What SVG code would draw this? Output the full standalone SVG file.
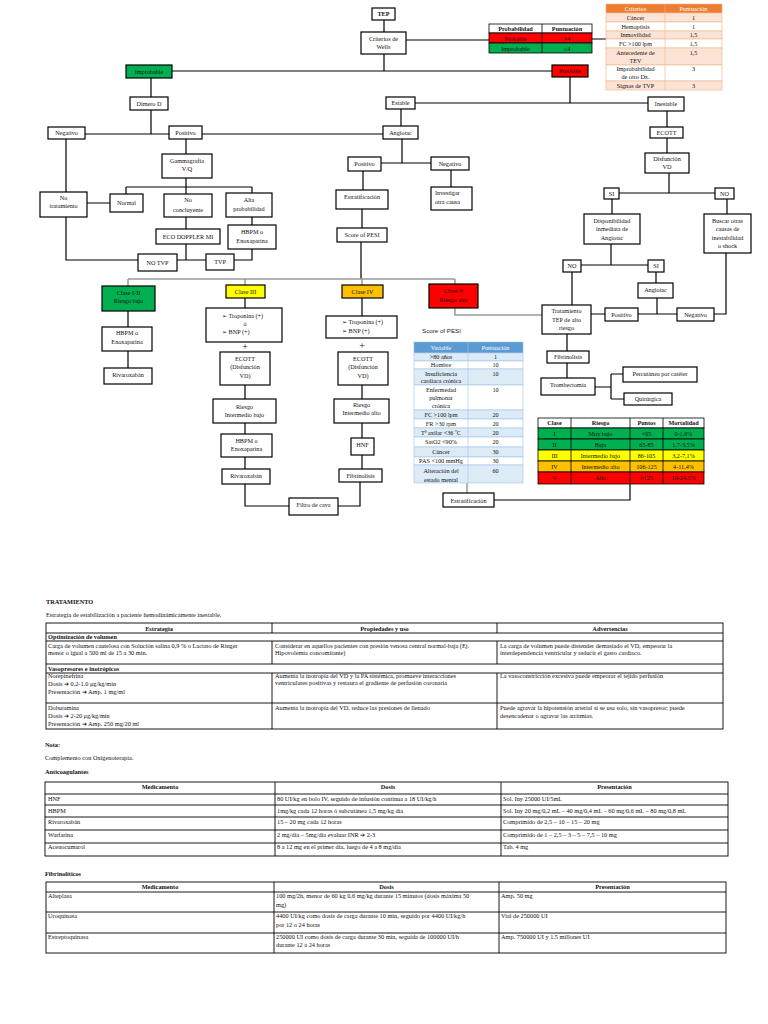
<svg xmlns="http://www.w3.org/2000/svg" width="768" height="1024" viewBox="0 0 768 1024">
<style>
.b{fill:#fff;stroke:#000;stroke-width:1.2}
.t{font-family:"Liberation Serif","DejaVu Serif",serif;font-size:6.2px;fill:#111;text-anchor:middle}
.l{text-anchor:start}
.bd{font-weight:bold}
.w{fill:#fff}
.e{fill:none;stroke:#000;stroke-width:1.2}
.eg{fill:none;stroke:#9a9a9a;stroke-width:1.5}
.tb{fill:none;stroke:#000;stroke-width:0.9}
.s{font-family:"Liberation Serif","DejaVu Serif",serif;font-size:6.3px;fill:#111}
.sb{font-weight:bold}
.sc{text-anchor:middle}
.co{stroke:#f4b183;stroke-width:0.6}
.cb{stroke:#9dc3e6;stroke-width:0.6}
.rk{stroke:#000;stroke-width:0.8}
</style>
<rect width="768" height="1024" fill="#fff"/>

<g id="connectors">
<path class="e" d="M384 20V32 M406 40H489 M592 39H606 M384 54V71 M172 71H552 M151 78V97 M151 110V134 M85 134H169 M202 134H383 M570 77V103 M415 103H648 M401 109V126 M66 139V192 M186 139V154 M186 178V194 M126 187H252 M126 187V194 M252 187V193 M87 203H110 M186 217V229 M252 217V225 M186 244V260 M177 260H206 M66 217V260H138 M252 249V260H234 M402 139V163 M381 163H431 M363 171V190 M451 170V187 M362 209V228 M361 242V279 M667 111V127 M667 138V153 M669 173V193 M619 193H715 M612 199V214 M727 199V214 M611 244V265 M581 265H648 M726 253V314H714 M572 272V305 M656 272V283 M657 298V314 M638 314H677 M605 314H591 M567 334V351 M567 363V378 M595 387H611 M611 374V399 M611 374H623 M611 399H624 M128 311V327 M128 351V368 M245 298V308 M245 385V399 M245 423V434 M245 457V469 M245 484V506H289 M362 298V316 M362 385V399 M362 423V438 M362 455V469 M360 482V506H338 M494 500H630V484"/>
<path class="eg" d="M128 279H455 M128 279V286 M245 279V285 M362 279V285 M455 279V284 M455 308V315H542 M467 483V493"/>
</g>

<g id="n-tep"><rect class="b" x="372" y="8" width="23" height="12"/><text class="t bd" x="383.5" y="16.2">TEP</text></g>
<g id="n-wells"><rect class="b" x="361" y="32" width="45" height="22"/><text class="t" x="383.5" y="40.5">Criterios de</text><text class="t" x="383.5" y="49">Wells</text></g>

<g id="t-probabilidad">
<rect x="489" y="24" width="103" height="9" fill="#fff" class="rk"/>
<rect x="489" y="33" width="103" height="10" fill="#ff0000" class="rk"/>
<rect x="489" y="43" width="103" height="10" fill="#00b050" class="rk"/>
<path class="rk" d="M542 24V53"/>
<text class="t bd" x="515.5" y="31">Probabilidad</text><text class="t bd" x="567" y="31">Puntuación</text>
<text class="t" x="515.5" y="40.5" fill="#7a0000">Probable</text><text class="t" x="567" y="40.5" fill="#7a0000">&gt;4</text>
<text class="t" x="515.5" y="50.5" fill="#0b4a22">Improbable</text><text class="t" x="567" y="50.5" fill="#0b4a22">≤4</text>
</g>

<g id="t-criterios">
<rect x="606" y="4" width="116" height="9" fill="#ed7d31" class="co"/>
<rect x="606" y="13" width="116" height="9" fill="#fbe4d5" class="co"/>
<rect x="606" y="22" width="116" height="9" fill="#fff" class="co"/>
<rect x="606" y="31" width="116" height="8" fill="#fbe4d5" class="co"/>
<rect x="606" y="39" width="116" height="9" fill="#fff" class="co"/>
<rect x="606" y="48" width="116" height="17" fill="#fbe4d5" class="co"/>
<rect x="606" y="65" width="116" height="16" fill="#fff" class="co"/>
<rect x="606" y="81" width="116" height="9" fill="#fbe4d5" class="co"/>
<path class="co" d="M665 4V90"/>
<text class="t w" x="635.5" y="10.8">Criterios</text><text class="t w" x="693.5" y="10.8">Puntuación</text>
<text class="t" x="635.5" y="19.7">Cáncer</text><text class="t" x="693.5" y="19.7">1</text>
<text class="t" x="635.5" y="28.7">Hemoptisis</text><text class="t" x="693.5" y="28.7">1</text>
<text class="t" x="635.5" y="37.2">Inmovilidad</text><text class="t" x="693.5" y="37.2">1,5</text>
<text class="t" x="635.5" y="45.7">FC &gt;100 lpm</text><text class="t" x="693.5" y="45.7">1,5</text>
<text class="t" x="635.5" y="54.5">Antecedente de</text><text class="t" x="635.5" y="62.5">TEV</text><text class="t" x="693.5" y="54.5">1,5</text>
<text class="t" x="635.5" y="71">Improbabilidad</text><text class="t" x="635.5" y="79">de otro Dx.</text><text class="t" x="693.5" y="71">3</text>
<text class="t" x="635.5" y="87.7">Signos de TVP</text><text class="t" x="693.5" y="87.7">3</text>
</g>

<g id="n-improbable"><rect class="b" x="126" y="65" width="46" height="13" fill="#00b050" style="fill:#00b050"/><text class="t" x="149" y="73.5" fill="#0b4a22">Improbable</text></g>
<g id="n-probable"><rect class="b" x="552" y="65" width="36" height="12" style="fill:#ff0000"/><text class="t" x="570" y="73.2" fill="#7a0000">Probable</text></g>
<g id="n-dimero"><rect class="b" x="130" y="97" width="38" height="13"/><text class="t" x="149" y="105.5">Dímero D</text></g>
<g id="n-negativo1"><rect class="b" x="48" y="127" width="37" height="12"/><text class="t" x="66.5" y="135.2">Negativo</text></g>
<g id="n-positivo1"><rect class="b" x="169" y="126" width="33" height="13"/><text class="t" x="185.5" y="134.5">Positivo</text></g>
<g id="n-gamma"><rect class="b" x="162" y="154" width="50" height="24"/><text class="t" x="187" y="162.5">Gammagrafía</text><text class="t" x="187" y="171">V/Q</text></g>
<g id="n-notrat"><rect class="b" x="40" y="192" width="47" height="25"/><text class="t" x="63.5" y="199.5">No</text><text class="t" x="63.5" y="208">tratamiento</text></g>
<g id="n-normal"><rect class="b" x="110" y="194" width="33" height="18"/><text class="t" x="126.5" y="205">Normal</text></g>
<g id="n-noconc"><rect class="b" x="164" y="194" width="48" height="23"/><text class="t" x="188" y="202">No</text><text class="t" x="188" y="211.5">concluyente</text></g>
<g id="n-alta"><rect class="b" x="226" y="193" width="46" height="24"/><text class="t" x="249" y="201.5">Alta</text><text class="t" x="249" y="210.5">probabilidad</text></g>
<g id="n-eco"><rect class="b" x="156" y="229" width="64" height="15"/><text class="t" x="188" y="238.5">ECO DOPPLER MI</text></g>
<g id="n-hbpm1"><rect class="b" x="228" y="225" width="48" height="24"/><text class="t" x="252" y="233.5">HBPM o</text><text class="t" x="252" y="242.5">Enoxaparina</text></g>
<g id="n-notvp"><rect class="b" x="138" y="254" width="39" height="17"/><text class="t" x="157.5" y="264.5">NO TVP</text></g>
<g id="n-tvp"><rect class="b" x="206" y="254" width="28" height="16"/><text class="t" x="220" y="264">TVP</text></g>

<g id="n-estable"><rect class="b" x="386" y="97" width="29" height="12"/><text class="t" x="400.5" y="105.2">Estable</text></g>
<g id="n-angiotac1"><rect class="b" x="383" y="126" width="35" height="13"/><text class="t" x="400.5" y="134.5">Angiotac</text></g>
<g id="n-positivo2"><rect class="b" x="348" y="157" width="33" height="14"/><text class="t" x="364.5" y="166">Positivo</text></g>
<g id="n-negativo2"><rect class="b" x="431" y="157" width="38" height="13"/><text class="t" x="450" y="165.5">Negativo</text></g>
<g id="n-estrat1"><rect class="b" x="336" y="190" width="52" height="19"/><text class="t" x="362" y="199">Estratificación</text></g>
<g id="n-investigar"><rect class="b" x="431" y="187" width="41" height="23"/><text class="t l" x="435" y="195">Investigar</text><text class="t l" x="435" y="204">otra causa</text></g>
<g id="n-pesi"><rect class="b" x="337" y="228" width="50" height="14"/><text class="t" x="362" y="236.5">Score of PESI</text></g>

<g id="n-inestable"><rect class="b" x="648" y="97" width="36" height="14"/><text class="t" x="666" y="106">Inestable</text></g>
<g id="n-ecott1"><rect class="b" x="650" y="127" width="33" height="11"/><text class="t" x="666.5" y="134.5">ECOTT</text></g>
<g id="n-disfuncion"><rect class="b" x="645" y="153" width="44" height="20"/><text class="t" x="667" y="160.5">Disfunción</text><text class="t" x="667" y="168.5">VD</text></g>
<g id="n-si1"><rect class="b" x="604" y="188" width="15" height="11"/><text class="t" x="611.5" y="195.5">SI</text></g>
<g id="n-no1"><rect class="b" x="715" y="188" width="19" height="11"/><text class="t" x="724.5" y="195.5">NO</text></g>
<g id="n-disponibilidad"><rect class="b" x="584" y="214" width="56" height="30"/><text class="t" x="612" y="222.5">Disponibilidad</text><text class="t" x="612" y="231">inmediata de</text><text class="t" x="612" y="239.5">Angiotac</text></g>
<g id="n-buscar"><rect class="b" x="704" y="214" width="47" height="39"/><text class="t" x="727.5" y="222.5">Buscar otras</text><text class="t" x="727.5" y="231">causas de</text><text class="t" x="727.5" y="239.5">inestabilidad</text><text class="t" x="727.5" y="248">o shock</text></g>
<g id="n-no2"><rect class="b" x="563" y="260" width="18" height="12"/><text class="t" x="572" y="268.2">NO</text></g>
<g id="n-si2"><rect class="b" x="648" y="260" width="16" height="12"/><text class="t" x="656" y="268.2">SI</text></g>
<g id="n-angiotac2"><rect class="b" x="638" y="283" width="35" height="15"/><text class="t" x="655.5" y="292">Angiotac</text></g>
<g id="n-positivo3"><rect class="b" x="605" y="308" width="33" height="13"/><text class="t" x="621.5" y="316.5">Positivo</text></g>
<g id="n-negativo3"><rect class="b" x="677" y="308" width="37" height="13"/><text class="t" x="695.5" y="316.5">Negativo</text></g>
<g id="n-tratamiento"><rect class="b" x="542" y="305" width="49" height="29"/><text class="t" x="566.5" y="313">Tratamiento</text><text class="t" x="566.5" y="321.5">TEP de alto</text><text class="t" x="566.5" y="330">riesgo</text></g>
<g id="n-fibrinolisis2"><rect class="b" x="547" y="351" width="42" height="12"/><text class="t" x="568" y="359.2">Fibrinolisis</text></g>
<g id="n-trombectomia"><rect class="b" x="541" y="378" width="54" height="17"/><text class="t" x="568" y="386.5">Trombectomía</text></g>
<g id="n-percutanea"><rect class="b" x="623" y="367" width="74" height="15"/><text class="t" x="660" y="375.5">Percutánea por catéter</text></g>
<g id="n-quirurgica"><rect class="b" x="624" y="393" width="48" height="12"/><text class="t" x="648" y="401">Quirúrgica</text></g>

<g id="t-riesgo">
<rect x="538" y="418" width="166" height="10" fill="#fff" class="rk"/>
<rect x="538" y="428" width="166" height="11" fill="#00b050" class="rk"/>
<rect x="538" y="439" width="166" height="11" fill="#00b050" class="rk"/>
<rect x="538" y="450" width="166" height="11" fill="#ffff00" class="rk"/>
<rect x="538" y="461" width="166" height="11" fill="#ffc000" class="rk"/>
<rect x="538" y="472" width="166" height="12" fill="#ff0000" class="rk"/>
<path class="rk" d="M571 418V484 M630 418V484 M663 418V484"/>
<text class="t bd" x="554.5" y="425.2">Clase</text><text class="t bd" x="600.5" y="425.2">Riesgo</text><text class="t bd" x="646.5" y="425.2">Puntos</text><text class="t bd" x="683.5" y="425.2">Mortalidad</text>
<g fill="#0b4a22"><text class="t" x="554.5" y="435.7" fill="#0b4a22">I</text><text class="t" x="600.5" y="435.7" fill="#0b4a22">Muy bajo</text><text class="t" x="646.5" y="435.7" fill="#0b4a22">&lt;65</text><text class="t" x="683.5" y="435.7" fill="#0b4a22">0-1,6%</text>
<text class="t" x="554.5" y="446.7" fill="#0b4a22">II</text><text class="t" x="600.5" y="446.7" fill="#0b4a22">Bajo</text><text class="t" x="646.5" y="446.7" fill="#0b4a22">65-85</text><text class="t" x="683.5" y="446.7" fill="#0b4a22">1,7-3,5%</text></g>
<text class="t" x="554.5" y="457.7" fill="#6b6b00">III</text><text class="t" x="600.5" y="457.7" fill="#6b6b00">Intermedio bajo</text><text class="t" x="646.5" y="457.7" fill="#6b6b00">86-105</text><text class="t" x="683.5" y="457.7" fill="#6b6b00">3,2-7,1%</text>
<text class="t" x="554.5" y="468.7" fill="#7a5200">IV</text><text class="t" x="600.5" y="468.7" fill="#7a5200">Intermedio alto</text><text class="t" x="646.5" y="468.7" fill="#7a5200">106-125</text><text class="t" x="683.5" y="468.7" fill="#7a5200">4-11,4%</text>
<text class="t" x="554.5" y="480.2" fill="#7a0000">V</text><text class="t" x="600.5" y="480.2" fill="#7a0000">Alto</text><text class="t" x="646.5" y="480.2" fill="#7a0000">&gt;125</text><text class="t" x="683.5" y="480.2" fill="#7a0000">10-24,5%</text>
</g>

<g id="n-clase12"><rect class="b" x="102" y="286" width="53" height="25" style="fill:#00b050"/><text class="t" x="128.5" y="294.5" fill="#0b4a22">Clase I-II</text><text class="t" x="128.5" y="303" fill="#0b4a22">Riesgo bajo</text></g>
<g id="n-hbpm2"><rect class="b" x="102" y="327" width="50" height="24"/><text class="t" x="127" y="335">HBPM o</text><text class="t" x="127" y="344">Enoxaparina</text></g>
<g id="n-riva1"><rect class="b" x="104" y="368" width="48" height="16"/><text class="t" x="128" y="376.5">Rivaroxabán</text></g>

<g id="n-clase3"><rect class="b" x="226" y="285" width="39" height="13" style="fill:#ffff00"/><text class="t" x="245.5" y="293.5">Clase III</text></g>
<g id="n-trop3"><rect class="b" x="206" y="308" width="76" height="34"/><text class="t l" x="222" y="317.5">➢  Troponina (+)</text><text class="t" x="245" y="325.5">ó</text><text class="t l" x="222" y="333.5">➢  BNP (+)</text></g>
<text class="t" x="245" y="350" style="font-size:10px">+</text>
<g id="n-ecott3"><rect class="b" x="220" y="352" width="50" height="33"/><text class="t" x="245" y="360.5">ECOTT</text><text class="t" x="245" y="369">(Disfunción</text><text class="t" x="245" y="377.5">VD)</text></g>
<g id="n-rib"><rect class="b" x="213" y="399" width="63" height="24"/><text class="t" x="244.5" y="408.5">Riesgo</text><text class="t" x="244.5" y="416.5">Intermedio bajo</text></g>
<g id="n-hbpm3"><rect class="b" x="221" y="434" width="51" height="23"/><text class="t" x="246.5" y="442.5">HBPM o</text><text class="t" x="246.5" y="450.5">Enoxaparina</text></g>
<g id="n-riva3"><rect class="b" x="222" y="469" width="48" height="15"/><text class="t" x="246" y="477.5">Rivaroxabán</text></g>

<g id="n-clase4"><rect class="b" x="342" y="285" width="41" height="13" style="fill:#ffc000"/><text class="t" x="362.5" y="293.5">Clase IV</text></g>
<g id="n-trop4"><rect class="b" x="326" y="316" width="71" height="22"/><text class="t l" x="342" y="324">➢  Troponina (+)</text><text class="t l" x="342" y="333">➢  BNP (+)</text></g>
<text class="t" x="362" y="348.5" style="font-size:10px">+</text>
<g id="n-ecott4"><rect class="b" x="338" y="352" width="50" height="33"/><text class="t" x="363" y="360.5">ECOTT</text><text class="t" x="363" y="369">(Disfunción</text><text class="t" x="363" y="377.5">VD)</text></g>
<g id="n-ria"><rect class="b" x="334" y="399" width="55" height="24"/><text class="t" x="361.5" y="407">Riesgo</text><text class="t" x="361.5" y="415">Intermedio alto</text></g>
<g id="n-hnf"><rect class="b" x="351" y="438" width="23" height="17"/><text class="t" x="362.5" y="447">HNF</text></g>
<g id="n-fibrinolisis1"><rect class="b" x="339" y="469" width="43" height="13"/><text class="t" x="360.5" y="477.5">Fibrinolisis</text></g>
<g id="n-filtro"><rect class="b" x="289" y="498" width="49" height="17"/><text class="t" x="313.5" y="507">Filtro de cava</text></g>

<g id="n-clase5"><rect class="b" x="429" y="284" width="49" height="24" style="fill:#ff0000"/><text class="t" x="453.5" y="292.5" fill="#7a0000">Clase V</text><text class="t" x="453.5" y="301.5" fill="#7a0000">Riesgo alto</text></g>

<text x="422" y="333" style="font-family:'Liberation Sans','DejaVu Sans',sans-serif;font-size:6.2px;fill:#222">Score of PESI</text>

<g id="t-pesi">
<rect x="414" y="342" width="109" height="11" fill="#5b9bd5" class="cb"/>
<rect x="414" y="353" width="109" height="8" fill="#ddebf7" class="cb"/>
<rect x="414" y="361" width="109" height="8" fill="#fff" class="cb"/>
<rect x="414" y="369" width="109" height="16" fill="#ddebf7" class="cb"/>
<rect x="414" y="385" width="109" height="25" fill="#fff" class="cb"/>
<rect x="414" y="410" width="109" height="9" fill="#ddebf7" class="cb"/>
<rect x="414" y="419" width="109" height="9" fill="#fff" class="cb"/>
<rect x="414" y="428" width="109" height="9" fill="#ddebf7" class="cb"/>
<rect x="414" y="437" width="109" height="10" fill="#fff" class="cb"/>
<rect x="414" y="447" width="109" height="10" fill="#ddebf7" class="cb"/>
<rect x="414" y="457" width="109" height="8" fill="#fff" class="cb"/>
<rect x="414" y="465" width="109" height="18" fill="#ddebf7" class="cb"/>
<path class="cb" d="M468 342V483"/>
<text class="t w" x="441" y="349.5">Variable</text><text class="t w" x="495.5" y="349.5">Puntuación</text>
<text class="t" x="441" y="358.5">&gt;80 años</text><text class="t" x="495.5" y="358.5">1</text>
<text class="t" x="441" y="366.7">Hombre</text><text class="t" x="495.5" y="366.7">10</text>
<text class="t" x="441" y="375.5">Insuficiencia</text><text class="t" x="441" y="383">cardíaca crónica</text><text class="t" x="495.5" y="375.5">10</text>
<text class="t" x="441" y="391.5">Enfermedad</text><text class="t" x="441" y="400">pulmonar</text><text class="t" x="441" y="408">crónica</text><text class="t" x="495.5" y="391.5">10</text>
<text class="t" x="441" y="416.5">FC &gt;100 lpm</text><text class="t" x="495.5" y="416.5">20</text>
<text class="t" x="441" y="425.5">FR &gt;30 rpm</text><text class="t" x="495.5" y="425.5">20</text>
<text class="t" x="441" y="435">Tª axilar &lt;36 ºC</text><text class="t" x="495.5" y="435">20</text>
<text class="t" x="441" y="444">SatO2 &lt;90%</text><text class="t" x="495.5" y="444">20</text>
<text class="t" x="441" y="454">Cáncer</text><text class="t" x="495.5" y="454">30</text>
<text class="t" x="441" y="462.5">PAS &lt;100 mmHg</text><text class="t" x="495.5" y="462.5">30</text>
<text class="t" x="441" y="473">Alteración del</text><text class="t" x="441" y="481.5">estado mental</text><text class="t" x="495.5" y="473">60</text>
</g>
<g id="n-estrat2"><rect class="b" x="443" y="493" width="51" height="14"/><text class="t" x="468.5" y="502.5">Estratificación</text></g>

<g id="tratamiento">
<text class="s sb" x="46" y="603.5">TRATAMIENTO</text>
<text class="s" x="46" y="617">Estrategia de estabilización a paciente hemodinámicamente inestable.</text>
<rect class="tb" x="46" y="623" width="677" height="106"/>
<path class="tb" d="M46 633H723 M46 641H723 M46 664H723 M46 673H723 M46 703H723 M272 623V633 M497 623V633 M272 641V664 M497 641V664 M272 673V729 M497 673V729"/>
<text class="s sb sc" x="159" y="630.5">Estrategia</text><text class="s sb sc" x="384.5" y="630.5">Propiedades y uso</text><text class="s sb sc" x="610" y="630.5">Advertencias</text>
<text class="s sb" x="48" y="639">Optimización de volumen</text>
<text class="s" x="48" y="647.5">Carga de volumen cautelosa con Solución salina 0,9 % o Lactato de Ringer</text>
<text class="s" x="48" y="654.5">menor o igual a 500 ml de 15 a 30 min.</text>
<text class="s" x="275" y="647.5">Considerar en aquellos pacientes con presión venosa central normal-baja (Ej.</text>
<text class="s" x="275" y="654.5">Hipovolemia concomitante)</text>
<text class="s" x="500" y="647.5">La carga de volumen puede distender demasiado el VD, empeorar la</text>
<text class="s" x="500" y="654.5">interdependencia ventricular y reducir el gasto cardiaco.</text>
<text class="s sb" x="48" y="670.5">Vasopresores e inotrópicos</text>
<text class="s" x="48" y="677.5">Norepinefrina</text>
<text class="s" x="48" y="686">Dosis ➔ 0.2-1.0 μg/kg/min</text>
<text class="s" x="48" y="694">Presentación ➔ Amp. 1 mg/ml</text>
<text class="s" x="275" y="677.5">Aumenta la inotropía del VD y la PA sistémica, promueve interacciones</text>
<text class="s" x="275" y="685">ventriculares positivas y restaura el gradiente de perfusión coronaria</text>
<text class="s" x="500" y="677.5">La vasoconstricción excesiva puede empeorar el tejido perfusión</text>
<text class="s" x="48" y="709.5">Dobutamina</text>
<text class="s" x="48" y="718">Dosis ➔ 2-20 μg/kg/min</text>
<text class="s" x="48" y="726">Presentación ➔ Amp. 250 mg/20 ml</text>
<text class="s" x="275" y="709.5">Aumenta la inotropía del VD, reduce las presiones de llenado</text>
<text class="s" x="500" y="709.5">Puede agravar la hipotensión arterial si se usa solo, sin vasopresor; puede</text>
<text class="s" x="500" y="717.5">desencadenar o agravar las arritmias.</text>
</g>

<g id="anticoagulantes">
<text class="s sb" x="45" y="747">Nota:</text>
<text class="s" x="45" y="759.5">Complemento con Oxigenoterapia.</text>
<text class="s sb" x="45" y="773.5">Anticoagulantes</text>
<rect class="tb" x="45" y="782" width="683" height="74"/>
<path class="tb" d="M45 794H728 M45 805H728 M45 817H728 M45 830H728 M45 843H728 M275 782V856 M501 782V856"/>
<text class="s sb sc" x="160" y="789">Medicamento</text><text class="s sb sc" x="388" y="789">Dosis</text><text class="s sb sc" x="614.5" y="789">Presentación</text>
<text class="s" x="48" y="801">HNF</text><text class="s" x="277" y="801">80 UI/kg en bolo IV, seguido de infusión continua a 18 UI/kg/h</text><text class="s" x="503" y="801">Sol. Iny 25000 UI/5mL</text>
<text class="s" x="48" y="813">HBPM</text><text class="s" x="277" y="813">1mg/kg cada 12 horas ó subcutánea 1,5 mg/kg día</text><text class="s" x="503" y="813">Sol. Iny 20 mg/0,2 mL – 40 mg/0,4 mL – 60 mg/0,6 mL – 80 mg/0,8 mL</text>
<text class="s" x="48" y="824">Rivaroxabán</text><text class="s" x="277" y="824">15 – 20 mg cada 12 horas</text><text class="s" x="503" y="824">Comprimido de 2,5 – 10 – 15 – 20 mg</text>
<text class="s" x="48" y="837">Warfarina</text><text class="s" x="277" y="837">2 mg/día – 5mg/día evaluar INR ➔ 2-3</text><text class="s" x="503" y="837">Comprimido de 1 – 2,5 – 3 – 5 – 7,5 – 10 mg</text>
<text class="s" x="48" y="849">Acenocumarol</text><text class="s" x="277" y="849">8 a 12 mg en el primer día, luego de 4 a 8 mg/día</text><text class="s" x="503" y="849">Tab. 4 mg</text>
</g>

<g id="fibrinoliticos">
<text class="s sb" x="45" y="875.5">Fibrinolíticos</text>
<rect class="tb" x="46" y="882" width="680" height="71"/>
<path class="tb" d="M46 892H726 M46 912H726 M46 933H726 M274 882V953 M499 882V953"/>
<text class="s sb sc" x="160" y="888.5">Medicamento</text><text class="s sb sc" x="386.5" y="888.5">Dosis</text><text class="s sb sc" x="612.5" y="888.5">Presentación</text>
<text class="s" x="48" y="898">Alteplasa</text><text class="s" x="276" y="898">100 mg/2h, menor de 60 kg 0,6 mg/kg durante 15 minutos (dosis máxima 50</text><text class="s" x="276" y="906.5">mg)</text><text class="s" x="501" y="898">Amp. 50 mg</text>
<text class="s" x="48" y="918">Uroquinasa</text><text class="s" x="276" y="918">4400 UI/kg como dosis de carga durante 10 min, seguido por 4400 UI/kg/h</text><text class="s" x="276" y="926.5">por 12 o 24 horas</text><text class="s" x="501" y="918">Vial de 250000 UI</text>
<text class="s" x="48" y="938.5">Estreptoquinasa</text><text class="s" x="276" y="938.5">250000 UI como dosis de carga durante 30 min, seguida de 100000 UI/h</text><text class="s" x="276" y="947">durante 12 a 24 horas</text><text class="s" x="501" y="938.5">Amp. 750000 UI y 1.5 millones UI</text>
</g>
</svg>
